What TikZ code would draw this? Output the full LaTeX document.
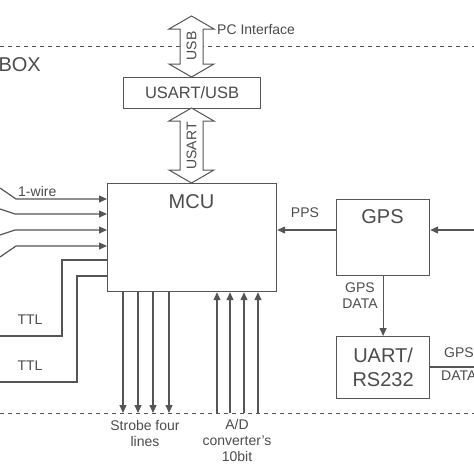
\documentclass[tikz,border=0pt]{standalone}
\usepackage{fontspec}
\setmainfont{Liberation Sans}
\usetikzlibrary{arrows.meta}
\definecolor{ink}{RGB}{85,85,85}
\definecolor{txt}{RGB}{75,75,75}
\newcommand\fatarrow[3]{%
  \draw[fat] (#1,#2) -- ({#1+22.5},{#2+13}) -- ({#1+11.5},{#2+13}) -- ({#1+11.5},{#3-13})
    -- ({#1+22.5},{#3-13}) -- (#1,#3) -- ({#1-22.5},{#3-13}) -- ({#1-11.5},{#3-13})
    -- ({#1-11.5},{#2+13}) -- ({#1-22.5},{#2+13}) -- cycle;}
\begin{document}
\begin{tikzpicture}[x=1pt,y=-1pt,
  line/.style={draw=ink, line width=1.2pt},
  arr/.style={line, -{Triangle[length=8pt,width=7pt]}},
  box/.style={draw=ink, line width=1.2pt, inner sep=0pt},
  lbl/.style={text=txt, font=\fontsize{14}{16}\selectfont, inner sep=0pt},
  big/.style={text=txt, font=\fontsize{20}{24}\selectfont, inner sep=0pt},
  dsh/.style={draw=ink, line width=1pt, dash pattern=on 4pt off 4pt},
  fat/.style={draw=ink, line width=1pt, fill=white}]
\useasboundingbox (0,0) rectangle (474,474);

% dashed boundaries
\coordinate (dtl) at (0,46);
\coordinate (dtr) at (474,46);
\coordinate (dbl) at (0,413);
\coordinate (dbr) at (474,413);
\draw[dsh] (dtl) -- (dtr);
\draw[dsh] (dbl) -- (dbr);

% boxes
\node[box, minimum width=137pt, minimum height=31pt, anchor=north west, big, font=\fontsize{16.5}{20}\selectfont] (uu) at (123,77) {USART/USB};
\node[box, minimum width=169pt, minimum height=108pt, anchor=north west] (mcu) at (107,183) {};
\node[big] (mculbl) at (191.5,202) {MCU};
\node[box, minimum width=93pt, minimum height=76pt, anchor=north west] (gps) at (336,199) {};
\node[big] (gpslbl) at (382.5,217) {GPS};
\node[box, minimum width=93pt, minimum height=62pt, anchor=north west, big, align=center] (uart) at (336,336) {UART/\\RS232};

% fat double arrows
\fatarrow{191.5}{16}{77}
\fatarrow{191.5}{108}{183}
\node[lbl, rotate=90] (usblbl) at (191.5,46) {USB};
\node[lbl, rotate=90] (usartlbl) at (191.5,146) {USART};

% texts
\node[lbl, anchor=west] (pc) at (217,30) {PC Interface};
\node[big, anchor=east] (boxlbl) at (41,65) {BOX};
\node[lbl, anchor=west] (wire) at (18,191) {1-wire};
\node[lbl] (ttl1) at (30,320) {TTL};
\node[lbl] (ttl2) at (30,366) {TTL};
\node[lbl] (pps) at (305,213) {PPS};
\node[lbl, align=center] (gpsdata) at (360,296) {GPS\\DATA};
\node[lbl, anchor=west] (gpsr) at (444,353) {GPS};
\node[lbl, anchor=west] (datar) at (441,376) {DATA};
\node[lbl, align=center, anchor=north] (strobe) at (145,420) {Strobe four\\lines};
\node[lbl, align=center, anchor=north] (adc) at (237,419) {A/D\\converter's\\10bit};

% left inputs
\coordinate (a1) at (0,188); \coordinate (b1) at (16,199);
\coordinate (a2) at (0,209); \coordinate (b2) at (15,214);
\coordinate (a3) at (0,235); \coordinate (b3) at (15,230);
\coordinate (a4) at (0,257); \coordinate (b4) at (16,246);
\draw[arr] (a1) -- (b1) -- (b1 -| mcu.west);
\draw[arr] (a2) -- (b2) -- (b2 -| mcu.west);
\draw[arr] (a3) -- (b3) -- (b3 -| mcu.west);
\draw[arr] (a4) -- (b4) -- (b4 -| mcu.west);

% TTL lines
\coordinate (t1) at (0,336); \coordinate (c1) at (62,260);
\coordinate (t2) at (0,382); \coordinate (c2) at (77,276);
\draw[line] (c1 -| mcu.west) -- (c1) |- (t1);
\draw[line] (c2 -| mcu.west) -- (c2) |- (t2);

% strobe outputs
\foreach \x/\n in {123/s1,138/s2,153/s3,169/s4}{
  \coordinate (\n) at (\x,413);
  \draw[arr] (\n |- mcu.south) -- (\n);
}
% A/D inputs
\foreach \x/\n in {217/d1,230/d2,244/d3,258/d4}{
  \coordinate (\n) at (\x,413);
  \draw[arr] (\n) -- (\n |- mcu.south);
}

% GPS connections
\coordinate (pp) at (336,230);
\draw[arr] (pp -| gps.west) -- (pp -| mcu.east);
\coordinate (gin) at (474,230);
\draw[arr] (gin) -- (gin -| gps.east);
\draw[arr] (gps.south) -- (uart.north);
\coordinate (uout) at (474,367);
\draw[line] (uout -| uart.east) -- (uout);
\end{tikzpicture}
\end{document}
